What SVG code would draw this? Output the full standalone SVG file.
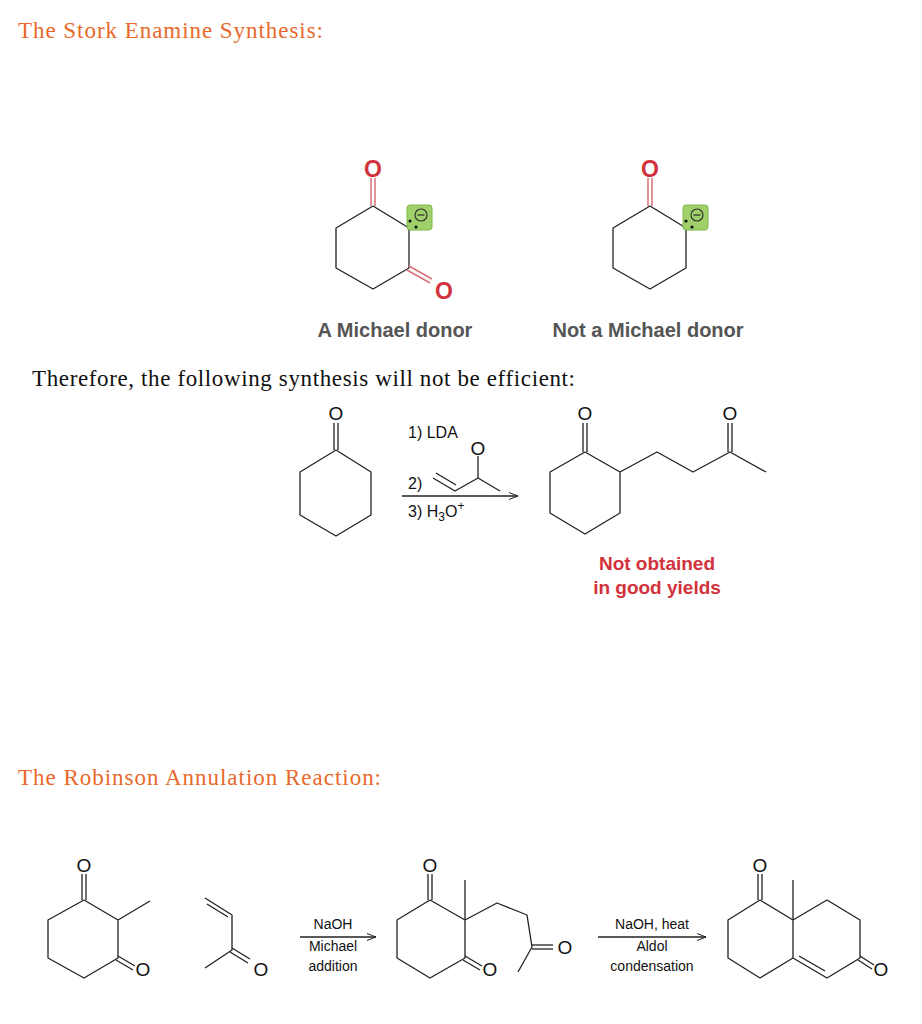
<svg xmlns="http://www.w3.org/2000/svg" width="922" height="1024" viewBox="0 0 922 1024">
<style>
.b{stroke:#222;stroke-width:1.3;fill:none;stroke-linejoin:round}
.r{stroke:#d9707a;stroke-width:1.5;fill:none}
.h{font-family:"Liberation Serif",serif;font-size:23px;fill:#E8692A}
.t{font-family:"Liberation Sans",sans-serif;font-size:16px;fill:#111}
.s{font-family:"Liberation Sans",sans-serif;font-size:14px;fill:#111}
.o{font-family:"Liberation Sans",sans-serif;font-size:19px;fill:#111;text-anchor:middle}
.ro{font-family:"Liberation Sans",sans-serif;font-size:19px;font-weight:bold;fill:#d1323c;text-anchor:middle}
.rO{font-family:"Liberation Sans",sans-serif;font-size:23px;font-weight:bold;fill:#d1323c;text-anchor:middle}
.g{font-family:"Liberation Sans",sans-serif;font-size:20px;font-weight:bold;fill:#555;text-anchor:middle}
.box{fill:#9fd06a;stroke:#7fb84e;stroke-width:1}
</style>
<defs><marker id="ar" markerWidth="10" markerHeight="8" refX="9" refY="4" orient="auto" markerUnits="userSpaceOnUse"><path d="M0,0.5 L9,4 L0,7.5" fill="none" stroke="#222" stroke-width="1"/></marker></defs>
<rect width="922" height="1024" fill="#fff"/>
<text class="h" x="18" y="38" textLength="305">The Stork Enamine Synthesis:</text>

<g id="donor">
<polyline class="b" points="373,206 409,228 409,268 373,289 336,268 336,228 373,206"/>
<line class="r" x1="371" y1="206" x2="371" y2="178"/><line class="r" x1="375" y1="206" x2="375" y2="178"/>
<line class="r" x1="409" y1="266" x2="432" y2="279"/><line class="r" x1="407" y1="270" x2="430" y2="283"/>
<text class="rO" x="373" y="177">O</text><text class="rO" x="444" y="299">O</text>
<rect class="box" x="407" y="205" width="25" height="25" rx="3"/>
<circle cx="421" cy="215" r="6" fill="none" stroke="#333" stroke-width="1.2"/><line x1="417.5" y1="215" x2="424.5" y2="215" stroke="#333" stroke-width="1.3"/>
<circle cx="410" cy="221" r="1.6" fill="#111"/><circle cx="416" cy="227" r="1.6" fill="#111"/>
</g>
<g id="nondonor">
<polyline class="b" points="650,206 686,228 686,268 650,289 613,268 613,228 650,206"/>
<line class="r" x1="648" y1="206" x2="648" y2="178"/><line class="r" x1="652" y1="206" x2="652" y2="178"/>
<text class="rO" x="650" y="177">O</text>
<rect class="box" x="683" y="205" width="25" height="25" rx="3"/>
<circle cx="697" cy="215" r="6" fill="none" stroke="#333" stroke-width="1.2"/><line x1="693.5" y1="215" x2="700.5" y2="215" stroke="#333" stroke-width="1.3"/>
<circle cx="686" cy="221" r="1.6" fill="#111"/><circle cx="692" cy="227" r="1.6" fill="#111"/>
</g>
<text class="g" x="395" y="337">A Michael donor</text>
<text class="g" x="648" y="337">Not a Michael donor</text>

<text x="32" y="386" font-family="Liberation Serif,serif" font-size="23" fill="#111" textLength="543">Therefore, the following synthesis will not be efficient:</text>

<g id="cyclohexanone">
<polyline class="b" points="336,450 371,472 371,515 336,536 300,515 300,472 336,450"/>
<line class="b" x1="334" y1="450" x2="334" y2="423"/><line class="b" x1="338" y1="450" x2="338" y2="423"/>
<text class="o" x="336" y="420">O</text>
</g>
<g id="reagents1">
<text class="t" x="408" y="438">1) LDA</text>
<text class="t" x="408" y="489">2)</text>
<polyline class="b" points="433,478 455,491 478,478 500,491"/>
<line class="b" x1="436" y1="473" x2="456" y2="485"/>
<line class="b" x1="478" y1="478" x2="478" y2="456"/>
<text class="o" x="478" y="455">O</text>
<line class="b" x1="402" y1="496" x2="518" y2="496" marker-end="url(#ar)"/>
<text class="t" x="408" y="517">3) H<tspan font-size="12" dy="4">3</tspan><tspan dy="-4">O</tspan><tspan font-size="12" dy="-7">+</tspan></text>
</g>
<g id="product1">
<polyline class="b" points="585,452 620,472 620,513 585,534 550,513 550,472 585,452"/>
<line class="b" x1="583" y1="452" x2="583" y2="423"/><line class="b" x1="587" y1="452" x2="587" y2="423"/>
<text class="o" x="585" y="420">O</text>
<polyline class="b" points="620,472 657,452 693,472 730,452 766,472"/>
<line class="b" x1="728" y1="452" x2="728" y2="423"/><line class="b" x1="732" y1="452" x2="732" y2="423"/>
<text class="o" x="730" y="420">O</text>
</g>
<text class="ro" x="657" y="570">Not obtained</text>
<text class="ro" x="657" y="594">in good yields</text>

<text class="h" x="18" y="785" textLength="363">The Robinson Annulation Reaction:</text>

<g id="diketone">
<polyline class="b" points="84,900 118,920 118,958 84,978 48,958 48,920 84,900"/>
<line class="b" x1="82" y1="900" x2="82" y2="874"/><line class="b" x1="86" y1="900" x2="86" y2="874"/>
<text class="o" x="84" y="872">O</text>
<line class="b" x1="118" y1="920" x2="150" y2="901"/>
<line class="b" x1="118" y1="956" x2="135" y2="966"/><line class="b" x1="116" y1="960" x2="133" y2="970"/>
<text class="o" x="143" y="976">O</text>
</g>
<g id="mvk">
<polyline class="b" points="205,898 232,915 232,950 205,968"/>
<line class="b" x1="207" y1="904" x2="228" y2="917"/>
<line class="b" x1="232" y1="948" x2="250" y2="959"/><line class="b" x1="230" y1="952" x2="248" y2="963"/>
<text class="o" x="261" y="976">O</text>
</g>
<g id="arrow1">
<line class="b" x1="300" y1="937" x2="376" y2="937" marker-end="url(#ar)"/>
<text class="s" x="333" y="929" text-anchor="middle">NaOH</text>
<text class="s" x="333" y="951" text-anchor="middle">Michael</text>
<text class="s" x="333" y="971" text-anchor="middle">addition</text>
</g>
<g id="michaeladduct">
<polyline class="b" points="430,900 465,920 465,958 430,978 397,958 397,920 430,900"/>
<line class="b" x1="428" y1="900" x2="428" y2="874"/><line class="b" x1="432" y1="900" x2="432" y2="874"/>
<text class="o" x="430" y="872">O</text>
<line class="b" x1="465" y1="920" x2="465" y2="880"/>
<polyline class="b" points="465,920 497,903 527,915 532,947 518,972"/>
<line class="b" x1="532" y1="945" x2="553" y2="945"/><line class="b" x1="532" y1="949" x2="553" y2="949"/>
<text class="o" x="565" y="954">O</text>
<line class="b" x1="465" y1="956" x2="482" y2="966"/><line class="b" x1="463" y1="960" x2="480" y2="970"/>
<text class="o" x="490" y="976">O</text>
</g>
<g id="arrow2">
<line class="b" x1="598" y1="937" x2="706" y2="937" marker-end="url(#ar)"/>
<text class="s" x="652" y="929" text-anchor="middle">NaOH, heat</text>
<text class="s" x="652" y="951" text-anchor="middle">Aldol</text>
<text class="s" x="652" y="971" text-anchor="middle">condensation</text>
</g>
<g id="enone">
<polyline class="b" points="760,900 793,920 793,958 760,978 728,958 728,920 760,900"/>
<line class="b" x1="758" y1="900" x2="758" y2="874"/><line class="b" x1="762" y1="900" x2="762" y2="874"/>
<text class="o" x="760" y="872">O</text>
<line class="b" x1="793" y1="920" x2="793" y2="880"/>
<polyline class="b" points="793,920 827,900 860,920 860,958 827,978 793,958"/>
<line class="b" x1="799" y1="956" x2="825" y2="971"/>
<line class="b" x1="860" y1="956" x2="874" y2="965"/><line class="b" x1="858" y1="960" x2="872" y2="969"/>
<text class="o" x="881" y="976">O</text>
</g>
</svg>
